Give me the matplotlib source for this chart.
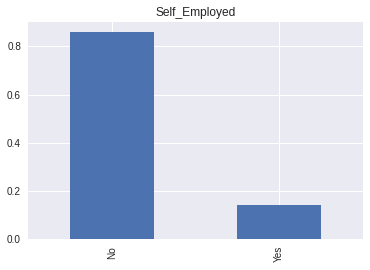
import matplotlib
matplotlib.use("Agg")
from matplotlib import pyplot as plt

plt.style.use("seaborn-v0_8")

categories = ["No", "Yes"]
shares = [0.859, 0.141]

fig = plt.figure(figsize=(370 / 72, 270 / 72), dpi=72)
ax = fig.add_axes([0.076, 0.115, 0.905, 0.804])
x = range(len(categories))
ax.bar(x, shares, width=0.5, color="#4C72B0")
ax.set_xticks(list(x))
ax.set_xticklabels(categories, rotation=90)
ax.set_xlim(-0.5, 1.5)
ax.set_title("Self_Employed")

fig.savefig("out.png", dpi=72)
